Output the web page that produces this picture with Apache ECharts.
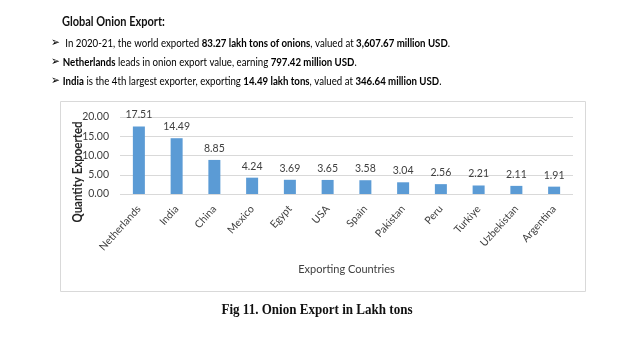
<!DOCTYPE html>
<html><head><meta charset="utf-8">
<script src="https://cdn.jsdelivr.net/npm/echarts@6/dist/echarts.min.js"></script>
<style>html,body{margin:0;padding:0;background:#fff}#c{width:638px;height:359px}</style>
</head><body><div id="c"></div>
<script>
const countries = ['Netherlands','India','China','Mexico','Egypt','USA','Spain','Pakistan','Peru','Turkiye','Uzbekistan','Argentina'];
const exportLakhTons = [17.51,14.49,8.85,4.24,3.69,3.65,3.58,3.04,2.56,2.21,2.11,1.91];
const yTicks = [0,5,10,15,20];

const chart = echarts.init(document.getElementById('c'), null, {renderer:'canvas'});
const F = 'Lato, "Noto Sans", sans-serif';
const txt = {fontFamily:F, fontSize:11, color:'#111'};
const bold = {fontFamily:F, fontSize:11, color:'#111', fontWeight:'bold'};
const arrow = {fontFamily:'"DejaVu Sans"', fontSize:12, color:'#111'};
const SX = 0.88;
chart.setOption({
  animation:false,
  graphic:[
    {type:'rect', shape:{x:60.5,y:101.5,width:525,height:190}, style:{fill:'none', stroke:'#d9d9d9', lineWidth:1}, z:-1},
    {type:'text', x:62, y:22, scaleX:SX, style:{text:'Global Onion Export:', font:'bold 12.5px '+F, fill:'#111', verticalAlign:'middle'}},
    {type:'text', x:51, y:43, scaleX:SX, style:{text:'{a|➢} {t| In 2020-21, the world exported }{b|83.27 lakh tons of onions}{t|, valued at }{b|3,607.67 million USD}{t|.}', rich:{a:arrow,t:txt,b:bold}, verticalAlign:'middle'}},
    {type:'text', x:51, y:62, scaleX:SX, style:{text:'{a|➢} {b|Netherlands}{t| leads in onion export value, earning }{b|797.42 million USD}{t|.}', rich:{a:arrow,t:txt,b:bold}, verticalAlign:'middle'}},
    {type:'text', x:51, y:81, scaleX:SX, style:{text:'{a|➢} {b|India}{t| is the 4th largest exporter, exporting }{b|14.49 lakh tons}{t|, valued at }{b|346.64 million USD}{t|.}', rich:{a:arrow,t:txt,b:bold}, verticalAlign:'middle'}},
    {type:'text', x:78, y:172, rotation:Math.PI/2, scaleX:SX, style:{text:'Quantity Expoerted', font:'bold 13px '+F, fill:'#262626', align:'center', verticalAlign:'middle'}},
    {type:'text', x:317, y:310, scaleX:0.87, style:{text:'Fig 11. Onion Export in Lakh tons', font:'bold 15px "Liberation Serif", serif', fill:'#111', align:'center', verticalAlign:'middle'}}
  ],
  grid:{left:120, right:65, top:117, bottom:165},
  xAxis:{
    type:'category', data:countries,
    axisLine:{show:false}, axisTick:{show:false},
    axisLabel:{rotate:48, interval:0, color:'#404040', fontFamily:F, fontSize:10.5, margin:13},
    name:'Exporting Countries', nameLocation:'middle', nameGap:70,
    nameTextStyle:{color:'#404040', fontFamily:F, fontSize:11}
  },
  yAxis:{
    type:'value', min:yTicks[0], max:yTicks[yTicks.length-1], interval:5,
    axisLine:{show:false}, axisTick:{show:false},
    splitLine:{lineStyle:{color:'#d9d9d9'}},
    axisLabel:{color:'#404040', fontFamily:F, fontSize:10.5, margin:11, formatter:v=>v.toFixed(2)}
  },
  series:[{
    type:'bar', data:exportLakhTons, barWidth:12,
    itemStyle:{color:'#5b9bd5'},
    label:{show:true, position:'top', distance:6, color:'#404040', fontFamily:F, fontSize:10.5, formatter:p=>p.value.toFixed(2)}
  }]
});
</script></body></html>
